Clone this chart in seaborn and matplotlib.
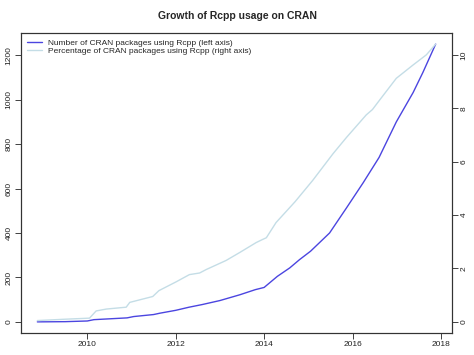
import pandas as pd
import numpy as np
import matplotlib
matplotlib.use("Agg")
import matplotlib.pyplot as plt
import seaborn as sns
from matplotlib.lines import Line2D

# Number of CRAN packages using Rcpp (left axis), dates as fractional years
num_years = [2008.87, 2009.5, 2010.0, 2010.15, 2010.9, 2011.05, 2011.5, 2011.64,
             2012.0, 2012.3, 2012.6, 2013.0, 2013.45, 2013.8, 2014.0, 2014.3,
             2014.58, 2014.8, 2015.05, 2015.48, 2015.86, 2016.24, 2016.6,
             2016.99, 2017.37, 2017.59, 2017.88]
num_pkgs = [0, 1, 4, 10, 18, 24, 33, 39,
            52, 66, 78, 96, 122, 145, 155, 205,
            243, 280, 318, 400, 512, 626, 740,
            900, 1032, 1122, 1250]

# Percentage of CRAN packages using Rcpp (right axis)
pct_years = [2008.87, 2009.5, 2010.05, 2010.2, 2010.43, 2010.88, 2010.96, 2011.48,
             2011.62, 2012.01, 2012.31, 2012.54, 2012.69, 2013.14, 2013.45,
             2013.82, 2013.97, 2014.05, 2014.27, 2014.7, 2015.1, 2015.56,
             2015.86, 2016.31, 2016.45, 2016.61, 2016.99, 2017.37, 2017.67, 2017.88]
pct_pkgs = [0.05, 0.1, 0.14, 0.41, 0.48, 0.55, 0.73, 0.95,
            1.17, 1.50, 1.77, 1.83, 1.96, 2.3, 2.6,
            2.97, 3.09, 3.15, 3.72, 4.5, 5.3, 6.3,
            6.9, 7.75, 7.95, 8.3, 9.12, 9.62, 10.0, 10.4]

num_df = pd.DataFrame({"year": num_years, "n": num_pkgs})
pct_df = pd.DataFrame({"year": pct_years, "pct": pct_pkgs})

sns.set_style("ticks")
plt.rcParams['font.family'] = ['Liberation Sans', 'DejaVu Sans']

fig = plt.figure(figsize=(4.74, 3.55), dpi=100)
ax = fig.add_axes([0.0443, 0.062, 0.9093, 0.845])
ax2 = ax.twinx()

blue = "#4b45e0"
light = "#c4dde6"

sns.lineplot(data=num_df, x="year", y="n", ax=ax, color=blue, linewidth=1.0)
sns.lineplot(data=pct_df, x="year", y="pct", ax=ax2, color=light, linewidth=1.0)

# R style axis ranges: 4% padding, both series share top end
ax.set_xlim(2008.5, 2018.25)
ax.set_ylim(-50, 1300)
top = pct_pkgs[-1] * 1300 / 1250
ax2.set_ylim(-50 * top / 1300, top)

ax.set_xticks([2010, 2012, 2014, 2016, 2018])
ax.set_yticks(range(0, 1201, 200))
ax2.set_yticks(range(0, 11, 2))
ax.set_xlabel("")
ax.set_ylabel("")
ax2.set_ylabel("")

for a in (ax, ax2):
    a.tick_params(labelsize=6, length=4, width=0.6, pad=2, colors="#222222")
    for s in a.spines.values():
        s.set_visible(True)
        s.set_linewidth(0.8)
        s.set_color("#333333")
for lab in ax.get_yticklabels() + ax2.get_yticklabels():
    lab.set_rotation(90)
    lab.set_va("center")

# legend
handles = [Line2D([], [], color=blue, lw=1.0), Line2D([], [], color=light, lw=1.0)]
ax.legend(handles, ["Number of CRAN packages using Rcpp (left axis)",
                    "Percentage of CRAN packages using Rcpp (right axis)"],
          loc="upper left", frameon=False, fontsize=6, handlelength=1.8,
          borderaxespad=0.3, labelspacing=0.1, handletextpad=0.8)

fig.text(0.5, 0.955, "Growth of Rcpp usage on CRAN", ha="center", va="center",
         fontsize=7.5, fontweight="bold")

fig.savefig("out.png", dpi=100)
